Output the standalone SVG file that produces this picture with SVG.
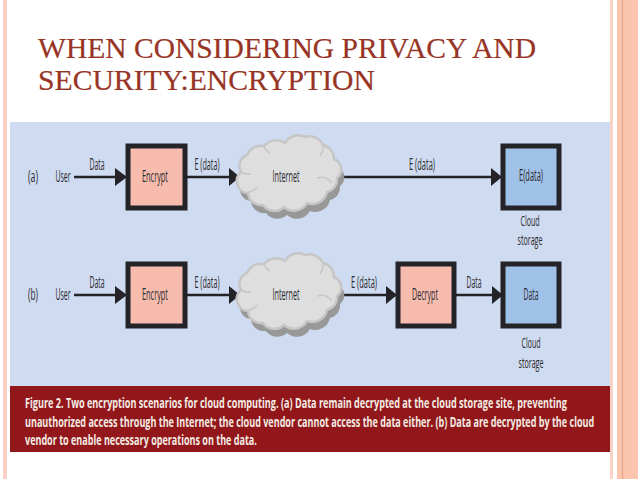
<svg xmlns="http://www.w3.org/2000/svg" width="638" height="479" viewBox="0 0 638 479">
<style>
.t{font-family:"Liberation Serif","Times New Roman",serif;font-size:29px;fill:#983425;stroke:#983425;stroke-width:.2}
.l{font-family:"Open Sans","Liberation Sans",sans-serif;font-size:17px;fill:#2a2a2e;text-anchor:middle}
.n{font-size:14px}
.c{font-family:"Open Sans","Liberation Sans",sans-serif;font-size:14px;font-weight:700;fill:#f4ece4}
.k{stroke:#232328;stroke-width:2.4;fill:none}
.a{fill:#232328}
.e{fill:#f8bcae;stroke:#232328;stroke-width:5}
.s{fill:#a0c1e8;stroke:#232328;stroke-width:5}
.cl{fill:#dedede;stroke:#c6c6c6;stroke-width:2.5}
.sh{fill:#989898}
.cu{fill:none;stroke:#c6c6c6;stroke-width:1.5}
</style>
<defs>
<path id="cloud" d="M241 172A12 12 0 0 1 247 155A15 15 0 0 1 264 146A16 16 0 0 1 285 143A15 15 0 0 1 305 137A15 15 0 0 1 323 145A14 14 0 0 1 334 159A11 11 0 0 1 337 178A13 13 0 0 1 327 192A15 15 0 0 1 307 203A15 15 0 0 1 284 207A14 14 0 0 1 263 205A13 13 0 0 1 248 193A12 12 0 0 1 241 172Z"/>
<g id="cl"><use href="#cloud" class="sh" x="3" y="8"/><use href="#cloud" class="cl"/><path class="cu" d="M241 172Q246 175 251 174M247 193Q254 191 257 187M317 178Q326 175 332 183M323 145Q324 151 320 156M264 146Q266 151 270 153"/></g>
</defs>
<rect width="638" height="479" fill="#fff"/>
<g id="frame">
<rect x="3" y="0" width="4" height="479" fill="#fbcfc3"/>
<rect x="610" y="0" width="3" height="479" fill="#fbd3c6"/>
<rect x="617" y="0" width="21" height="479" fill="#fcc5ae"/>
<rect x="622" y="0" width="1" height="479" fill="#ee9f84"/>
</g>
<g id="title">
<text class="t" x="38" y="58" textLength="498" lengthAdjust="spacingAndGlyphs">WHEN CONSIDERING PRIVACY AND</text>
<text class="t" x="38" y="90" textLength="337" lengthAdjust="spacingAndGlyphs">SECURITY:ENCRYPTION</text>
</g>
<rect id="panel" x="10" y="122" width="600" height="264" fill="#cfdbf0"/>
<g id="caption">
<rect x="10" y="386" width="600" height="66" fill="#92171a"/>
<text class="c" transform="translate(25 408) scale(.62 1)" textLength="874" lengthAdjust="spacingAndGlyphs">Figure 2. Two encryption scenarios for cloud computing. (a) Data remain decrypted at the cloud storage site, preventing</text>
<text class="c" transform="translate(25 427) scale(.62 1)" textLength="918" lengthAdjust="spacingAndGlyphs">unauthorized access through the Internet; the cloud vendor cannot access the data either. (b) Data are decrypted by the cloud</text>
<text class="c" transform="translate(25 445) scale(.62 1)" textLength="374" lengthAdjust="spacingAndGlyphs">vendor to enable necessary operations on the data.</text>
</g>
<g id="connectors">
<path class="k" d="M74 177H118M187 177H231M340 177H492"/>
<path class="a" d="M115 168L127 177L115 186ZM229 168L240 177L229 186ZM491 168L502 177L491 186Z"/>
<path class="k" d="M74 295H118M187 295H231M340 295H387M456 295H493"/>
<path class="a" d="M115 286L127 295L115 304ZM229 286L240 295L229 304ZM386 286L397 295L386 304ZM492 286L503 295L492 304Z"/>
</g>
<g id="labels-a">
<text class="l" x="33" y="182" textLength="10" lengthAdjust="spacingAndGlyphs">(a)</text>
<text class="l" x="63" y="182" textLength="15" lengthAdjust="spacingAndGlyphs">User</text>
<text class="l" x="97" y="170" textLength="15" lengthAdjust="spacingAndGlyphs">Data</text>
<text class="l" x="207" y="170" textLength="25" lengthAdjust="spacingAndGlyphs">E (data)</text>
<text class="l" x="422" y="170" textLength="26" lengthAdjust="spacingAndGlyphs">E (data)</text>
</g>
<g id="encrypt-a"><rect class="e" x="128" y="146" width="57" height="62"/><text class="l" x="155" y="182" textLength="26" lengthAdjust="spacingAndGlyphs">Encrypt</text></g>
<g id="internet-a"><use href="#cl"/><text class="l" x="286" y="182" textLength="27" lengthAdjust="spacingAndGlyphs">Internet</text></g>
<g id="store-a"><rect class="s" x="503" y="146" width="56" height="62"/><text class="l" x="531" y="181" textLength="24" lengthAdjust="spacingAndGlyphs">E(data)</text><text class="l n" x="530" y="226" textLength="19" lengthAdjust="spacingAndGlyphs">Cloud</text><text class="l n" x="530" y="245" textLength="25" lengthAdjust="spacingAndGlyphs">storage</text></g>
<g id="labels-b">
<text class="l" x="33" y="300" textLength="10" lengthAdjust="spacingAndGlyphs">(b)</text>
<text class="l" x="63" y="300" textLength="15" lengthAdjust="spacingAndGlyphs">User</text>
<text class="l" x="97" y="288" textLength="15" lengthAdjust="spacingAndGlyphs">Data</text>
<text class="l" x="207" y="288" textLength="25" lengthAdjust="spacingAndGlyphs">E (data)</text>
<text class="l" x="364" y="288" textLength="26" lengthAdjust="spacingAndGlyphs">E (data)</text>
<text class="l" x="474" y="288" textLength="15" lengthAdjust="spacingAndGlyphs">Data</text>
</g>
<g id="encrypt-b"><rect class="e" x="128" y="264" width="57" height="62"/><text class="l" x="155" y="300" textLength="26" lengthAdjust="spacingAndGlyphs">Encrypt</text></g>
<g id="internet-b"><use href="#cl" y="118"/><text class="l" x="286" y="300" textLength="27" lengthAdjust="spacingAndGlyphs">Internet</text></g>
<g id="decrypt-b"><rect class="e" x="398" y="264" width="56" height="62"/><text class="l" x="425" y="300" textLength="26" lengthAdjust="spacingAndGlyphs">Decrypt</text></g>
<g id="store-b"><rect class="s" x="503" y="264" width="56" height="62"/><text class="l" x="531" y="300" textLength="15" lengthAdjust="spacingAndGlyphs">Data</text><text class="l n" x="531" y="348" textLength="19" lengthAdjust="spacingAndGlyphs">Cloud</text><text class="l n" x="531" y="368" textLength="25" lengthAdjust="spacingAndGlyphs">storage</text></g>
</svg>
